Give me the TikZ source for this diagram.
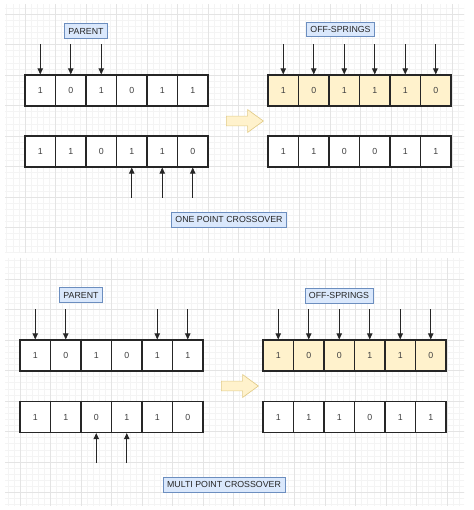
\documentclass[tikz,border=0pt]{standalone}
\usepackage{fontspec}
\setmainfont{Liberation Sans}
\usepackage{tikz}
\usetikzlibrary{positioning,shapes.arrows,arrows.meta}
\definecolor{xyellow}{HTML}{FFF2CC}
\definecolor{xgold}{HTML}{D6B656}
\definecolor{xblue}{HTML}{DAE8FC}
\definecolor{xblueline}{HTML}{6C8EBF}
\definecolor{xgrid}{HTML}{E4E4E4}
\definecolor{xgridlight}{HTML}{F4F4F4}
\newcommand{\figfont}{\fontsize{6.6}{8}\selectfont}

\begin{document}
\begin{tikzpicture}[
  x=0.75pt, y=-0.75pt, font=\figfont,
  cell/.style={rectangle, draw=black!85, fill=white, line width=0.9pt, minimum width=22.9pt,
    minimum height=23.2pt, inner sep=0pt, text=black!75},
  tag/.style={rectangle, draw=xblueline, fill=xblue, line width=0.5pt,
    minimum height=11pt, inner xsep=3pt, inner ysep=0pt, text=black!85},
  arr/.style={-{Triangle[length=4.5pt,width=4pt]}, line width=0.75pt, black!85},
  move/.style={single arrow, draw=xgold!70, fill=xyellow, line width=0.5pt,
    minimum height=27.75pt, inner xsep=0pt, inner ysep=3.4pt,
    single arrow head extend=4.9pt, single arrow tip angle=72},
  gmin/.style={xgridlight, line width=0.4pt},
  gmaj/.style={xgrid, line width=0.5pt}
]
\useasboundingbox (0,0) rectangle (474,510);

% background grid, top panel
\begin{scope}
  \clip (5,5) rectangle (464,252);
  \foreach \k in {-4,...,75} \draw[gmin] ({25+6.1*\k},0) -- ++(0,260);
  \foreach \k in {-12,...,30} \draw[gmin] (0,{75+6.1*\k}) -- ++(474,0);
  \foreach \k in {-1,...,15} \draw[gmaj] ({25+30.5*\k},0) -- ++(0,260);
  \foreach \k in {-3,...,6} \draw[gmaj] (0,{75+30.5*\k}) -- ++(474,0);
\end{scope}
% background grid, bottom panel
\begin{scope}
  \clip (5,258) rectangle (464,505);
  \foreach \k in {-4,...,75} \draw[gmin] ({20+6.1*\k},250) -- ++(0,260);
  \foreach \k in {-15,...,30} \draw[gmin] (0,{340+6.1*\k}) -- ++(474,0);
  \foreach \k in {-1,...,15} \draw[gmaj] ({20+30.5*\k},250) -- ++(0,260);
  \foreach \k in {-3,...,6} \draw[gmaj] (0,{340+30.5*\k}) -- ++(474,0);
\end{scope}

% one point crossover
\node[tag] (par1) at (86,31) {PARENT};
\node[tag] (off1) at (340.5,29.5) {OFF-SPRINGS};
\node[tag] (one) at (229,219.5) {ONE POINT CROSSOVER};
\foreach \v [count=\i] in {1,0,1,0,1,1}
  \node[cell] (pa\i) at ({9.75+30.5*\i},90.5) {\v};
\foreach \v [count=\i] in {1,1,0,1,1,0}
  \node[cell] (pb\i) at ({9.75+30.5*\i},151.5) {\v};
\foreach \v [count=\i] in {1,0,1,1,1,0}
  \node[cell, fill=xyellow] (oa\i) at ({252.75+30.5*\i},90.5) {\v};
\foreach \v [count=\i] in {1,1,0,0,1,1}
  \node[cell] (ob\i) at ({252.75+30.5*\i},151.5) {\v};
\node[move] (mv1) at (241.5,121) {};
\foreach \i in {1,2,3} {
  \coordinate[above=22.5pt of pa\i] (ta\i);
  \draw[arr] (ta\i) -- (pa\i);
}
\foreach \i in {4,5,6} {
  \coordinate[below=22.5pt of pb\i] (tb\i);
  \draw[arr] (tb\i) -- (pb\i);
}
\foreach \i in {1,...,6} {
  \coordinate[above=22.5pt of oa\i] (to\i);
  \draw[arr] (to\i) -- (oa\i);
}

% multi point crossover
\node[tag] (par2) at (81,295) {PARENT};
\node[tag] (off2) at (339,295.5) {OFF-SPRINGS};
\node[tag] (multi) at (224,484.5) {MULTI POINT CROSSOVER};
\foreach \v [count=\i] in {1,0,1,0,1,1}
  \node[cell] (qa\i) at ({4.75+30.5*\i},355.5) {\v};
\foreach \v [count=\i] in {1,1,0,1,1,0}
  \node[cell] (qb\i) at ({4.75+30.5*\i},417) {\v};
\foreach \v [count=\i] in {1,0,0,1,1,0}
  \node[cell, fill=xyellow] (ra\i) at ({247.75+30.5*\i},355.5) {\v};
\foreach \v [count=\i] in {1,1,1,0,1,1}
  \node[cell] (rb\i) at ({247.75+30.5*\i},417) {\v};
\node[move] (mv2) at (236.5,386) {};
\foreach \i in {1,2,5,6} {
  \coordinate[above=22.5pt of qa\i] (sa\i);
  \draw[arr] (sa\i) -- (qa\i);
}
\foreach \i in {3,4} {
  \coordinate[below=22.5pt of qb\i] (sb\i);
  \draw[arr] (sb\i) -- (qb\i);
}
\foreach \i in {1,...,6} {
  \coordinate[above=22.5pt of ra\i] (so\i);
  \draw[arr] (so\i) -- (ra\i);
}
\end{tikzpicture}
\end{document}
